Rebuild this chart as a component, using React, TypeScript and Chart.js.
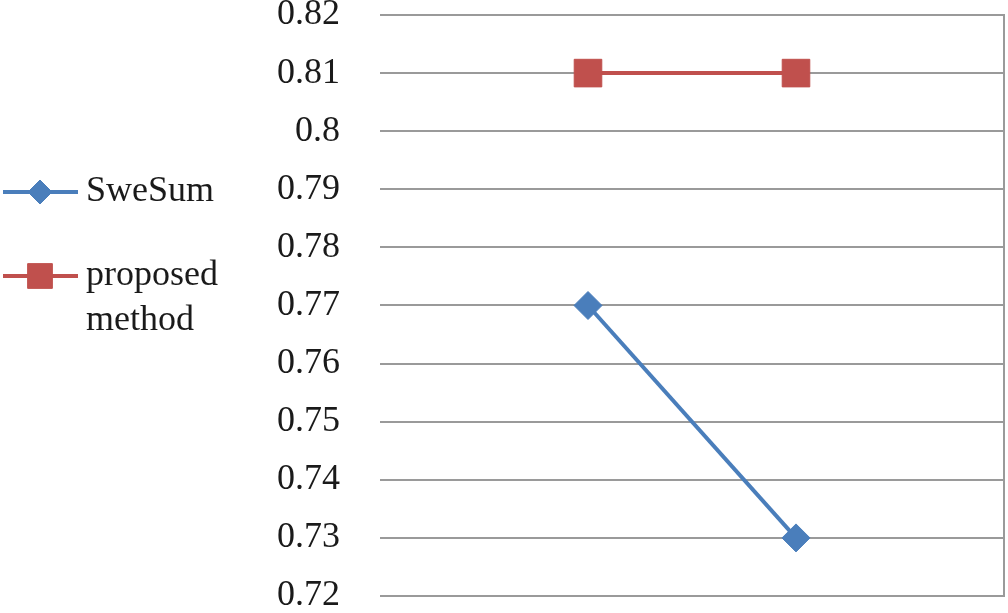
import { useEffect, useRef } from 'react';
import { Chart, registerables } from 'chart.js';
import type { ChartConfiguration, Plugin } from 'chart.js';
import { drawPoint } from 'chart.js/helpers';

Chart.register(...registerables);

// two runs sit at 1/3 and 2/3 of the width, so the outer slots stay empty
const categories = ['', 'run 1', 'run 2', ''];
const sweSumValues = [null, 0.77, 0.73, null];
const proposedValues = [null, 0.81, 0.81, null];
const legendLabels = [['SweSum'], ['proposed', 'method']];

const yMin = 0.72;
const yMax = 0.82;
const yStep = 0.01;

const SERIF = '"Liberation Serif", "Times New Roman", serif';
const BLUE = '#4a7ebb';
const RED = '#c0504d';
const GRID = '#9a9a9a';

// Excel-style legend on the left, with the long label wrapped on two lines,
// plus the right-hand plot border
const sideLegend: Plugin<'line'> = {
  id: 'sideLegend',
  afterDraw(chart) {
    const { ctx, chartArea } = chart;
    const rows = [192, 276];
    const sizes = [12, 17.5];
    ctx.save();
    ctx.strokeStyle = GRID;
    ctx.lineWidth = 2;
    ctx.beginPath();
    ctx.moveTo(chartArea.right, chartArea.top - 1);
    ctx.lineTo(chartArea.right, chartArea.bottom + 1);
    ctx.stroke();
    chart.data.datasets.forEach((ds: any, i) => {
      const y = rows[i];
      ctx.strokeStyle = ds.borderColor;
      ctx.lineWidth = 4;
      ctx.beginPath();
      ctx.moveTo(3, y);
      ctx.lineTo(78, y);
      ctx.stroke();
      ctx.fillStyle = ds.pointBackgroundColor;
      ctx.strokeStyle = ds.pointBackgroundColor;
      ctx.lineWidth = 1;
      drawPoint(ctx, { pointStyle: ds.pointStyle, radius: sizes[i], rotation: 0, borderWidth: 1 }, 40, y);
      ctx.fillStyle = '#1a1a1a';
      ctx.font = `36px ${SERIF}`;
      ctx.textAlign = 'left';
      ctx.textBaseline = 'middle';
      legendLabels[i].forEach((line, j) => ctx.fillText(line, 86, y + j * 45));
    });
    ctx.restore();
  },
};

export default function App() {
  const canvasRef = useRef<HTMLCanvasElement>(null);

  useEffect(() => {
    const canvas = canvasRef.current;
    if (!canvas) return;

    const config: ChartConfiguration<'line'> = {
      type: 'line',
      data: {
        labels: categories,
        datasets: [
          {
            label: 'SweSum',
            data: sweSumValues,
            borderColor: BLUE,
            backgroundColor: BLUE,
            pointBackgroundColor: BLUE,
            pointBorderColor: BLUE,
            borderWidth: 4,
            pointStyle: 'rectRot',
            pointRadius: 14,
            pointBorderWidth: 1,
          },
          {
            label: 'proposed method',
            data: proposedValues,
            borderColor: RED,
            backgroundColor: RED,
            pointBackgroundColor: RED,
            pointBorderColor: RED,
            borderWidth: 4,
            pointStyle: 'rect',
            pointRadius: 19.5,
            pointBorderWidth: 1,
          },
        ],
      },
      options: {
        animation: false,
        responsive: true,
        maintainAspectRatio: false,
        layout: { autoPadding: false, padding: { top: 15, bottom: 17, left: 0, right: 4 } },
        scales: {
          x: { display: false, offset: false },
          y: {
            min: yMin,
            max: yMax,
            border: { display: false },
            grid: { color: GRID, lineWidth: 2, drawTicks: false },
            afterFit: (scale) => {
              scale.width = 380;
              scale.paddingTop = 0;
              scale.paddingBottom = 0;
            },
            ticks: {
              stepSize: yStep,
              padding: 40,
              color: '#1a1a1a',
              font: { family: SERIF, size: 36 },
              callback: (v) => String(parseFloat(Number(v).toFixed(2))),
            },
          },
        },
        plugins: {
          legend: { display: false },
          tooltip: { enabled: false },
        },
      },
      plugins: [sideLegend],
    };

    const chart = new Chart(canvas, config);
    return () => chart.destroy();
  }, []);

  return (
    <div style={{ position: 'absolute', left: 0, top: 0, width: 1008, height: 613, background: '#fff' }}>
      <canvas ref={canvasRef} />
    </div>
  );
}
